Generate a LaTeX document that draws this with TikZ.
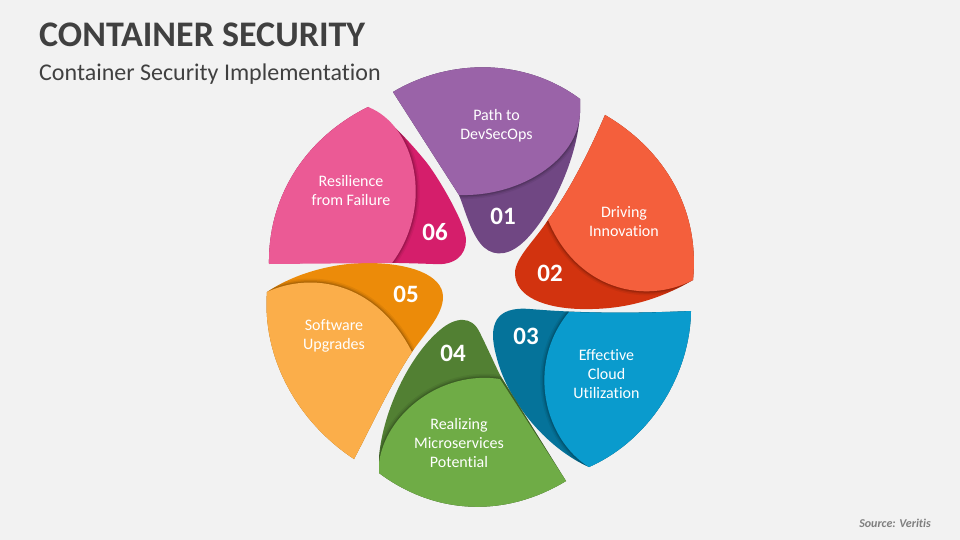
\documentclass[tikz,border=0pt]{standalone}
\usepackage{fontspec}
\setmainfont[Ligatures=NoCommon]{Carlito}
\definecolor{bgc}{HTML}{F2F2F2}
\definecolor{ink}{HTML}{404040}
\definecolor{srcc}{HTML}{7F7F7F}
\definecolor{pL}{HTML}{9A63A8}\definecolor{pD}{HTML}{704783}
\definecolor{rL}{HTML}{F45F3C}\definecolor{rD}{HTML}{D2330F}
\definecolor{bL}{HTML}{0A9BCD}\definecolor{bD}{HTML}{05739A}
\definecolor{gL}{HTML}{6FAC46}\definecolor{gD}{HTML}{528033}
\definecolor{oL}{HTML}{FBAE4A}\definecolor{oD}{HTML}{EC8B09}
\definecolor{mL}{HTML}{EB5A95}\definecolor{mD}{HTML}{D51E6B}
\tikzset{
  lbl/.style={text=white,font=\fontsize{16}{19}\selectfont,align=center,inner sep=0pt},
  num/.style={text=white,font=\fontsize{25}{25}\selectfont\bfseries,inner sep=0pt},
}
\newcommand{\petal}[4]{%
  \fill[#1] #3;
  \begin{scope}
    \clip #3;
    \draw[black,opacity=.06,line width=8pt,line join=round] #4;
    \draw[black,opacity=.09,line width=5pt,line join=round] #4;
    \draw[black,opacity=.13,line width=2.5pt,line join=round] #4;
  \end{scope}
  \fill[#2] #4;
}
\begin{document}
\begin{tikzpicture}[x=1pt,y=-1pt]
\useasboundingbox (0,0) rectangle (960,540);
\fill[bgc] (0,0) rectangle (960,540);
% 01
\petal{pD}{pL}
{(393,92) .. controls (450,58) and (525,58) .. (580,99) -- (580,113) .. controls (577,165) and (545,225) .. (520,245) .. controls (505,257) and (490,256) .. (480,243) .. controls (470,230) and (465,210) .. (459,195) -- cycle}
{(393,92) .. controls (450,58) and (525,58) .. (580,99) -- (580,113) .. controls (578,160) and (520,197) .. (459,195) -- cycle}
% 02
\petal{rD}{rL}
{(605,115) .. controls (665,150) and (700,210) .. (693,280) .. controls (655,302) and (620,310) .. (580,309) .. controls (545,308) and (515,297) .. (515,273) .. controls (515,258) and (535,240) .. (548,220) .. controls (570,190) and (590,150) .. (605,115) -- cycle}
{(605,115) .. controls (665,150) and (700,210) .. (693,280) .. controls (645,305) and (577,290) .. (548,220) .. controls (570,190) and (590,150) .. (605,115) -- cycle}
% 03
\petal{bD}{bL}
{(691,311) .. controls (690,375) and (650,440) .. (589,467) .. controls (550,450) and (508,405) .. (496,355) .. controls (488,325) and (495,306) .. (530,309) .. controls (590,314) and (640,313) .. (691,311) -- cycle}
{(691,311) .. controls (690,375) and (650,440) .. (589,467) .. controls (545,440) and (525,365) .. (569,312) .. controls (610,313) and (650,313) .. (691,311) -- cycle}
% 04
\petal{gD}{gL}
{(566,481) .. controls (505,518) and (435,515) .. (379,473) -- (379,457) .. controls (383,410) and (410,355) .. (440,330) .. controls (455,317) and (472,315) .. (480,333) .. controls (487,347) and (495,365) .. (500,375) -- cycle}
{(566,481) .. controls (505,518) and (435,515) .. (379,473) -- (379,463) .. controls (385,415) and (440,370) .. (500,379) -- cycle}
% 05
\petal{oD}{oL}
{(354,459) .. controls (295,420) and (262,355) .. (267,292) .. controls (300,270) and (340,263) .. (367,263) .. controls (410,263) and (443,275) .. (443,297) .. controls (443,315) and (425,333) .. (412,352) .. controls (390,385) and (372,425) .. (354,459) -- cycle}
{(354,459) .. controls (295,420) and (262,355) .. (267,292) .. controls (310,272) and (375,280) .. (412,352) .. controls (390,385) and (372,425) .. (354,459) -- cycle}
% 06
\petal{mD}{mL}
{(368,107) .. controls (302,140) and (268,200) .. (269,264) .. controls (320,262) and (380,262) .. (433,264) .. controls (455,266) and (466,255) .. (466,240) .. controls (466,225) and (440,180) .. (427,163) .. controls (410,142) and (390,120) .. (368,107) -- cycle}
{(368,107) .. controls (302,140) and (268,200) .. (269,264) -- (392,263) .. controls (435,205) and (415,125) .. (368,107) -- cycle}
% texts
\node[anchor=west,inner sep=0pt,text=ink,font=\fontsize{36}{36}\selectfont\bfseries] (title) at (39,35) {CONTAINER SECURITY};
\node[anchor=west,inner sep=0pt,text=ink,font=\fontsize{24}{24}\selectfont] (sub) at (39,74.5) {Container Security Implementation};
\node[anchor=east,inner sep=0pt,text=srcc,font=\fontsize{12}{12}\selectfont\bfseries\itshape] (src) at (931,523) {Source: Veritis};
\node[lbl] (l1) at (496.5,125.5) {Path to\\DevSecOps};
\node[lbl] (l2) at (624,221.5) {Driving\\Innovation};
\node[lbl] (l3) at (606.5,374.5) {Effective\\Cloud\\Utilization};
\node[lbl] (l4) at (459,443) {Realizing\\Microservices\\Potential};
\node[lbl] (l5) at (334,335.5) {Software\\Upgrades};
\node[lbl] (l6) at (351,190.5) {Resilience\\from Failure};
\node[num] (n1) at (503,216) {01};
\node[num] (n2) at (550,273) {02};
\node[num] (n3) at (526,336) {03};
\node[num] (n4) at (453,353) {04};
\node[num] (n5) at (406,294.5) {05};
\node[num] (n6) at (435,232) {06};
\end{tikzpicture}
\end{document}
